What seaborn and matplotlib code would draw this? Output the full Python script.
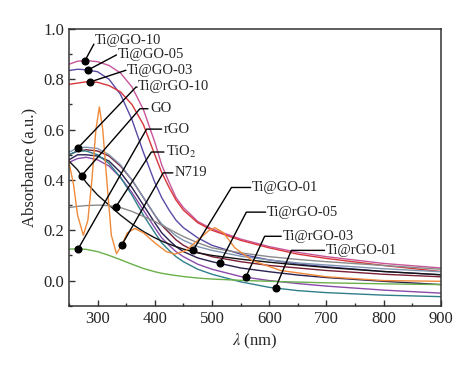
import numpy as np
import pandas as pd
import seaborn as sns
import matplotlib
matplotlib.use("Agg")
import matplotlib.pyplot as plt

# wavelength grid (nm) shared by the smooth spectra
wl = [250, 265, 280, 300, 320, 340, 360, 380, 400, 412, 425, 437, 450, 475, 500, 550, 600, 650, 700, 800, 900]

ti_go_10 = [0.86, 0.872, 0.875, 0.87, 0.855, 0.825, 0.77, 0.68, 0.55, 0.46, 0.39, 0.33, 0.29, 0.235, 0.205, 0.165, 0.135, 0.112, 0.095, 0.068, 0.05]
ti_go_05 = [0.835, 0.84, 0.838, 0.83, 0.8, 0.74, 0.64, 0.51, 0.39, 0.33, 0.28, 0.24, 0.21, 0.17, 0.14, 0.105, 0.082, 0.066, 0.055, 0.036, 0.023]
ti_go_03 = [0.78, 0.785, 0.79, 0.788, 0.775, 0.75, 0.7, 0.62, 0.5, 0.43, 0.37, 0.32, 0.28, 0.23, 0.2, 0.16, 0.13, 0.105, 0.088, 0.06, 0.036]
ti_go_01 = [0.5, 0.515, 0.52, 0.515, 0.495, 0.455, 0.4, 0.33, 0.26, 0.22, 0.19, 0.162, 0.14, 0.112, 0.095, 0.075, 0.06, 0.05, 0.04, 0.025, 0.015]
ti_rgo_10 = [0.51, 0.528, 0.53, 0.525, 0.5, 0.46, 0.4, 0.33, 0.26, 0.225, 0.2, 0.178, 0.16, 0.135, 0.12, 0.097, 0.082, 0.07, 0.062, 0.047, 0.035]
ti_rgo_05 = [0.48, 0.5, 0.5, 0.495, 0.475, 0.43, 0.37, 0.3, 0.23, 0.19, 0.16, 0.135, 0.115, 0.09, 0.075, 0.05, 0.035, 0.022, 0.012, -0.003, -0.016]
ti_rgo_03 = [0.47, 0.485, 0.49, 0.48, 0.455, 0.41, 0.35, 0.28, 0.21, 0.17, 0.14, 0.115, 0.095, 0.065, 0.045, 0.016, 0.0, -0.012, -0.022, -0.038, -0.05]
ti_rgo_01 = [0.5, 0.515, 0.515, 0.5, 0.465, 0.41, 0.34, 0.26, 0.19, 0.15, 0.12, 0.095, 0.075, 0.045, 0.025, -0.005, -0.027, -0.04, -0.048, -0.058, -0.064]
go = [0.475, 0.44, 0.39, 0.34, 0.3, 0.26, 0.225, 0.195, 0.17, 0.157, 0.145, 0.135, 0.125, 0.11, 0.1, 0.085, 0.073, 0.062, 0.052, 0.036, 0.023]
rgo = [0.125, 0.126, 0.124, 0.115, 0.1, 0.083, 0.065, 0.048, 0.035, 0.029, 0.024, 0.02, 0.016, 0.01, 0.006, 0.001, -0.003, -0.006, -0.009, -0.013, -0.016]
tio2 = [0.29, 0.295, 0.298, 0.3, 0.298, 0.29, 0.275, 0.255, 0.235, 0.22, 0.205, 0.19, 0.175, 0.15, 0.13, 0.11, 0.095, 0.084, 0.075, 0.06, 0.045]

# N719 has its own, denser grid because of the oscillations
wl_n719 = [250, 258, 265, 275, 283, 290, 297, 303, 309, 316, 324, 333, 342, 352, 365, 380, 400, 420, 435,
           455, 475, 495, 505, 520, 540, 570, 620, 700, 800, 900]
n719 = [0.47, 0.38, 0.26, 0.18, 0.24, 0.4, 0.6, 0.69, 0.6, 0.4, 0.18, 0.107, 0.14, 0.19, 0.207, 0.19, 0.15,
        0.115, 0.105, 0.12, 0.16, 0.2, 0.21, 0.19, 0.13, 0.08, 0.04, 0.015, 0.0, -0.003]

series = [
    ("Ti@GO-10", wl, ti_go_10, "#c8559a"),
    ("Ti@GO-05", wl, ti_go_05, "#5a4aa6"),
    ("Ti@GO-03", wl, ti_go_03, "#d8363a"),
    ("Ti@GO-01", wl, ti_go_01, "#7a1f35"),
    ("Ti@rGO-10", wl, ti_rgo_10, "#7d95b0"),
    ("Ti@rGO-05", wl, ti_rgo_05, "#2a2050"),
    ("Ti@rGO-03", wl, ti_rgo_03, "#8a4aaa"),
    ("Ti@rGO-01", wl, ti_rgo_01, "#2f7f8a"),
    ("GO", wl, go, "#111111"),
    ("rGO", wl, rgo, "#6ab04a"),
    ("TiO$_2$", wl, tio2, "#8a8a8a"),
    ("N719", wl_n719, n719, "#f08a3a"),
]

# label: (marker wavelength, corner x, corner y, stub end x, text x, text y)
labels = {
    "Ti@GO-10": (278, 293.5, 0.94, 293.5, 295.5, 0.955),
    "Ti@GO-05": (283, 333, 0.897, 333, 335.5, 0.90),
    "Ti@GO-03": (286.6, 349.5, 0.836, 349.5, 351, 0.835),
    "Ti@rGO-10": (266, 367, 0.769, 369, 371, 0.77),
    "GO": (272, 374, 0.683, 388, 391.4, 0.683),
    "rGO": (266, 385.6, 0.602, 412, 415.5, 0.602),
    "TiO$_2$": (332, 394, 0.511, 416, 419, 0.511),
    "N719": (342.5, 414.6, 0.428, 431.5, 434, 0.428),
    "Ti@GO-01": (467, 534, 0.37, 567.6, 570, 0.37),
    "Ti@rGO-05": (513.5, 560, 0.272, 593.8, 596, 0.272),
    "Ti@rGO-03": (559, 592, 0.176, 621, 623, 0.176),
    "Ti@rGO-01": (611, 638.7, 0.12, 696.8, 699, 0.12),
}

sns.set_style("ticks")
plt.rcParams["font.family"] = ["Liberation Serif", "DejaVu Serif"]
plt.rcParams["mathtext.fontset"] = "stix"

fig, ax = plt.subplots(figsize=(4.74, 3.69), dpi=100)
fig.subplots_adjust(left=0.1456, right=0.930, top=0.9214, bottom=0.1715)

for name, x, y, c in series:
    sns.lineplot(x=x, y=y, color=c, lw=1.0, ax=ax, sort=False)

for name, x, y, c in series:
    mx, cx, cy, sx, tx, ty = labels[name]
    my = np.interp(mx, x, y)
    ax.plot([mx, cx, sx], [my, cy, cy], color="black", lw=1.0, zorder=5)
    ax.plot(mx, my, "o", color="black", ms=4.8, zorder=6)
    ax.text(tx, ty, name, fontsize=10.5, ha="left", va="center", zorder=6)

ax.set_xlim(250, 900)
ax.set_ylim(-0.075, 1.0)
ax.set_xticks([300, 400, 500, 600, 700, 800, 900])
ax.set_xticks(np.arange(250, 901, 50), minor=True)
ax.set_yticks([0.0, 0.2, 0.4, 0.6, 0.8, 1.0])
ax.set_yticks(np.arange(-0.1, 1.01, 0.1), minor=True)
ax.set_yticklabels(["0.0", "0.2", "0.4", "0.6", "0.8", "1.0"])
ax.tick_params(which="both", direction="in", color="#333333", width=1.0, labelsize=12)
ax.tick_params(which="major", length=4)
ax.tick_params(which="minor", length=2.5)
for s in ax.spines.values():
    s.set_color("#333333")
    s.set_linewidth(1.1)

ax.set_xlabel("$\\lambda$ (nm)", fontsize=12)
ax.set_ylabel("Absorbance (a.u.)", fontsize=12)

plt.savefig("out.png", dpi=100)
plt.close()
